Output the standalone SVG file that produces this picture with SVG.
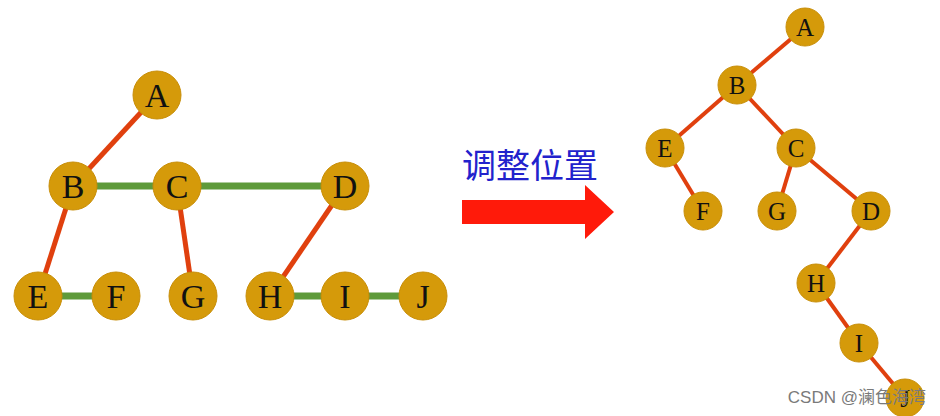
<svg xmlns="http://www.w3.org/2000/svg" width="940" height="416" viewBox="0 0 940 416">
<style>
.n{fill:#D59A0A;stroke:#C88E08;stroke-width:1}
.t{font-family:"Liberation Serif",serif;fill:#111;text-anchor:middle}
.L{font-size:34px}
.R{font-size:25px}
.r{stroke:#E0400E;stroke-width:5}
.g{stroke:#5E9A3A;stroke-width:7}
.r2{stroke:#E0400E;stroke-width:4}
</style>
<rect width="940" height="416" fill="#fff"/>
<g id="connectors">
<line class="r" x1="157" y1="95" x2="73" y2="186"/>
<line class="g" x1="73" y1="186" x2="345" y2="186"/>
<line class="r" x1="73" y1="186" x2="38" y2="296"/>
<line class="g" x1="38" y1="296" x2="116" y2="296"/>
<line class="r" x1="177" y1="186" x2="193" y2="296"/>
<line class="r" x1="345" y1="186" x2="270" y2="296"/>
<line class="g" x1="270" y1="296" x2="423" y2="296"/>
<line class="r2" x1="805" y1="27" x2="737" y2="85"/>
<line class="r2" x1="737" y1="85" x2="665" y2="148"/>
<line class="r2" x1="737" y1="85" x2="796" y2="148"/>
<line class="r2" x1="665" y1="148" x2="703" y2="211"/>
<line class="r2" x1="796" y1="148" x2="777" y2="211"/>
<line class="r2" x1="796" y1="148" x2="871" y2="211"/>
<line class="r2" x1="871" y1="211" x2="816" y2="283"/>
<line class="r2" x1="816" y1="283" x2="859" y2="343"/>
<line class="r2" x1="859" y1="343" x2="905" y2="398"/>
</g>
<g id="A1"><circle class="n" cx="157" cy="95" r="24"/><text class="t L" x="157" y="107">A</text></g>
<g id="B1"><circle class="n" cx="73" cy="186" r="24"/><text class="t L" x="73" y="198">B</text></g>
<g id="C1"><circle class="n" cx="177" cy="186" r="24"/><text class="t L" x="177" y="198">C</text></g>
<g id="D1"><circle class="n" cx="345" cy="186" r="24"/><text class="t L" x="345" y="198">D</text></g>
<g id="E1"><circle class="n" cx="38" cy="296" r="24"/><text class="t L" x="38" y="308">E</text></g>
<g id="F1"><circle class="n" cx="116" cy="296" r="24"/><text class="t L" x="116" y="308">F</text></g>
<g id="G1"><circle class="n" cx="193" cy="296" r="24"/><text class="t L" x="193" y="308">G</text></g>
<g id="H1"><circle class="n" cx="270" cy="296" r="24"/><text class="t L" x="270" y="308">H</text></g>
<g id="I1"><circle class="n" cx="345" cy="296" r="24"/><text class="t L" x="345" y="308">I</text></g>
<g id="J1"><circle class="n" cx="423" cy="296" r="24"/><text class="t L" x="423" y="308">J</text></g>
<g id="A2"><circle class="n" cx="805" cy="27" r="19"/><text class="t R" x="805" y="36">A</text></g>
<g id="B2"><circle class="n" cx="737" cy="85" r="19"/><text class="t R" x="737" y="94">B</text></g>
<g id="E2"><circle class="n" cx="665" cy="148" r="19"/><text class="t R" x="665" y="157">E</text></g>
<g id="C2"><circle class="n" cx="796" cy="148" r="19"/><text class="t R" x="796" y="157">C</text></g>
<g id="F2"><circle class="n" cx="703" cy="211" r="19"/><text class="t R" x="703" y="220">F</text></g>
<g id="G2"><circle class="n" cx="777" cy="211" r="19"/><text class="t R" x="777" y="220">G</text></g>
<g id="D2"><circle class="n" cx="871" cy="211" r="19"/><text class="t R" x="871" y="220">D</text></g>
<g id="H2"><circle class="n" cx="816" cy="283" r="19"/><text class="t R" x="816" y="292">H</text></g>
<g id="I2"><circle class="n" cx="859" cy="343" r="19"/><text class="t R" x="859" y="352">I</text></g>
<g id="J2"><circle class="n" cx="905" cy="398" r="19"/><text class="t R" x="905" y="407">J</text></g>
<g id="arrow">
<polygon points="462,200 585,200 585,185 614,212 585,239 585,224 462,224" fill="#FF1A0A"/>
<text x="530" y="178" font-family="'Noto Sans CJK SC',sans-serif" font-size="34" fill="#2222CC" text-anchor="middle">调整位置</text>
</g>
<text x="926" y="403" font-family="'Liberation Sans','Noto Sans CJK SC',sans-serif" font-size="17" fill="#7a7a7a" text-anchor="end">CSDN @澜色海湾</text>
</svg>
